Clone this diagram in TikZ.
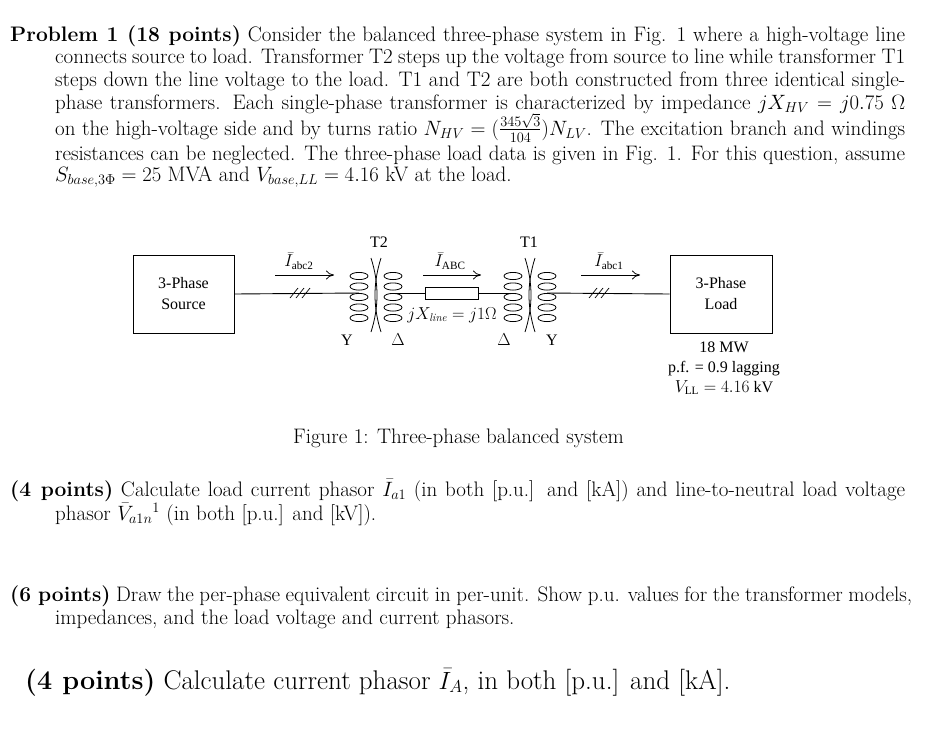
\documentclass[tikz,border=0pt]{standalone}
\usepackage{amsmath}
\usepackage{fontspec}
\usetikzlibrary{arrows.meta}
\newfontfamily\figfont{Liberation Serif}
\begin{document}
\begin{tikzpicture}[x=1pt,y=-1pt,
  txt/.style={anchor=base west,inner sep=0pt,font=\fontsize{21}{24}\selectfont},
  ff/.style={inner sep=0pt,font=\figfont\fontsize{16}{19}\selectfont},
  wire/.style={line width=0.9pt},
  cur/.style={-{To[length=8pt,width=9pt]},line width=0.8pt}]
\useasboundingbox (0,0) rectangle (931,742);
\newcommand\jline[3]{\node[txt] at (#1) {\makebox[#2pt][s]{#3}};}
\jline{10,41}{895}{\textbf{Problem 1 (18 points)} Consider the balanced three-phase system in Fig. 1 where a high-voltage line}
\jline{55,63}{850}{connects source to load. Transformer T2 steps up the voltage from source to line while transformer T1}
\jline{55,86}{850}{steps down the line voltage to the load. T1 and T2 are both constructed from three identical single-}
\jline{55,109}{850}{phase transformers. Each single-phase transformer is characterized by impedance $jX_{HV}=j0.75\ \Omega$}
\jline{55,135}{850}{on the high-voltage side and by turns ratio $N_{HV}=(\frac{345\sqrt3}{104})N_{LV}$. The excitation branch and windings}
\jline{55,160}{850}{resistances can be neglected. The three-phase load data is given in Fig. 1. For this question, assume}
\node[txt] (l7) at (55,181) {$S_{base,3\Phi}=25$ MVA and $V_{base,LL}=4.16$ kV at the load.};
\node[txt] (cap) at (293,443) {Figure 1: Three-phase balanced system};
\jline{10,496}{895}{\textbf{(4 points)} Calculate load current phasor $\bar I_{a1}$ (in both [p.u.] and [kA]) and line-to-neutral load voltage}
\node[txt] (p2) at (55,520) {phasor $\bar V_{a1n}{}^1$ (in both [p.u.] and [kV]).};
\jline{10,601}{902}{\textbf{(6 points)} Draw the per-phase equivalent circuit in per-unit. Show p.u. values for the transformer models,}
\node[txt] (p4) at (55,624) {impedances, and the load voltage and current phasors.};
\node[txt,font=\fontsize{27}{30}\selectfont] (p5) at (25,689) {\textbf{(4 points)} Calculate current phasor $\bar I_A$, in both [p.u.] and [kA].};
% diagram
\node[draw,line width=0.9pt,minimum width=101pt,minimum height=78pt,ff,align=center] (src) at (183.5,294) {3-Phase\\[2pt]Source};
\node[draw,line width=0.9pt,minimum width=102pt,minimum height=78pt,ff,align=center] (load) at (721,294) {3-Phase\\[2pt]Load};
\node[draw,line width=0.9pt,minimum width=53pt,minimum height=12pt,inner sep=0pt] (res) at (452,293) {};
\foreach \n/\c in {T2/376,T1/530}{
  \coordinate (\n L) at (\c-17,293);
  \coordinate (\n R) at (\c+17,293);
  \draw[line width=0.8pt] (\c-5,258) .. controls (\c+3,283) and (\c+3,307) .. (\c-5,332);
  \draw[line width=0.8pt] (\c+5,258) .. controls (\c-3,283) and (\c-3,307) .. (\c+5,332);
  \foreach \y in {276,286.5,297,307.5,318}{
    \draw[line width=0.8pt] (\c-17,\y) ellipse [x radius=9pt,y radius=3.6pt];
    \draw[line width=0.8pt] (\c+17,\y) ellipse [x radius=9pt,y radius=3.6pt];}
}
\draw[wire] (src.east) -- (T2L);
\draw[wire] (T2R) -- (res.west);
\draw[wire] (res.east) -- (T1L);
\draw[wire] (T1R) -- (load.west);
\foreach \x in {294,300,306}{\draw[line width=0.7pt] (\x-4,298) -- (\x+4,288);}
\foreach \x in {593,599,605}{\draw[line width=0.7pt] (\x-4,298) -- (\x+4,288);}
\coordinate (a1) at (275,275); \coordinate (a2) at (334,275);
\draw[cur] (a1) -- (a2);
\coordinate (b1) at (423,275); \coordinate (b2) at (481,275);
\draw[cur] (b1) -- (b2);
\coordinate (c1) at (581,275); \coordinate (c2) at (640,275);
\draw[cur] (c1) -- (c2);
\node[ff] at (299,261) {$\bar I_{\text{abc2}}$};
\node[ff] at (450,261) {$\bar I_{\text{ABC}}$};
\node[ff] at (609,261) {$\bar I_{\text{abc1}}$};
\node[ff] at (379,242) {T2};
\node[ff] at (529,242) {T1};
\node[ff] at (347,340) {Y};
\node[ff] at (398,340) {$\Delta$};
\node[ff] at (504,340) {$\Delta$};
\node[ff] at (552,340) {Y};
\node[ff] at (452,315) {$jX_{\mathit{line}}=j1\Omega$};
\node[ff,align=center] at (724,368) {18 MW\\[1pt]p.f. = 0.9 lagging\\[1pt]$V_{\text{LL}}= 4.16$ kV};
\end{tikzpicture}
\end{document}
